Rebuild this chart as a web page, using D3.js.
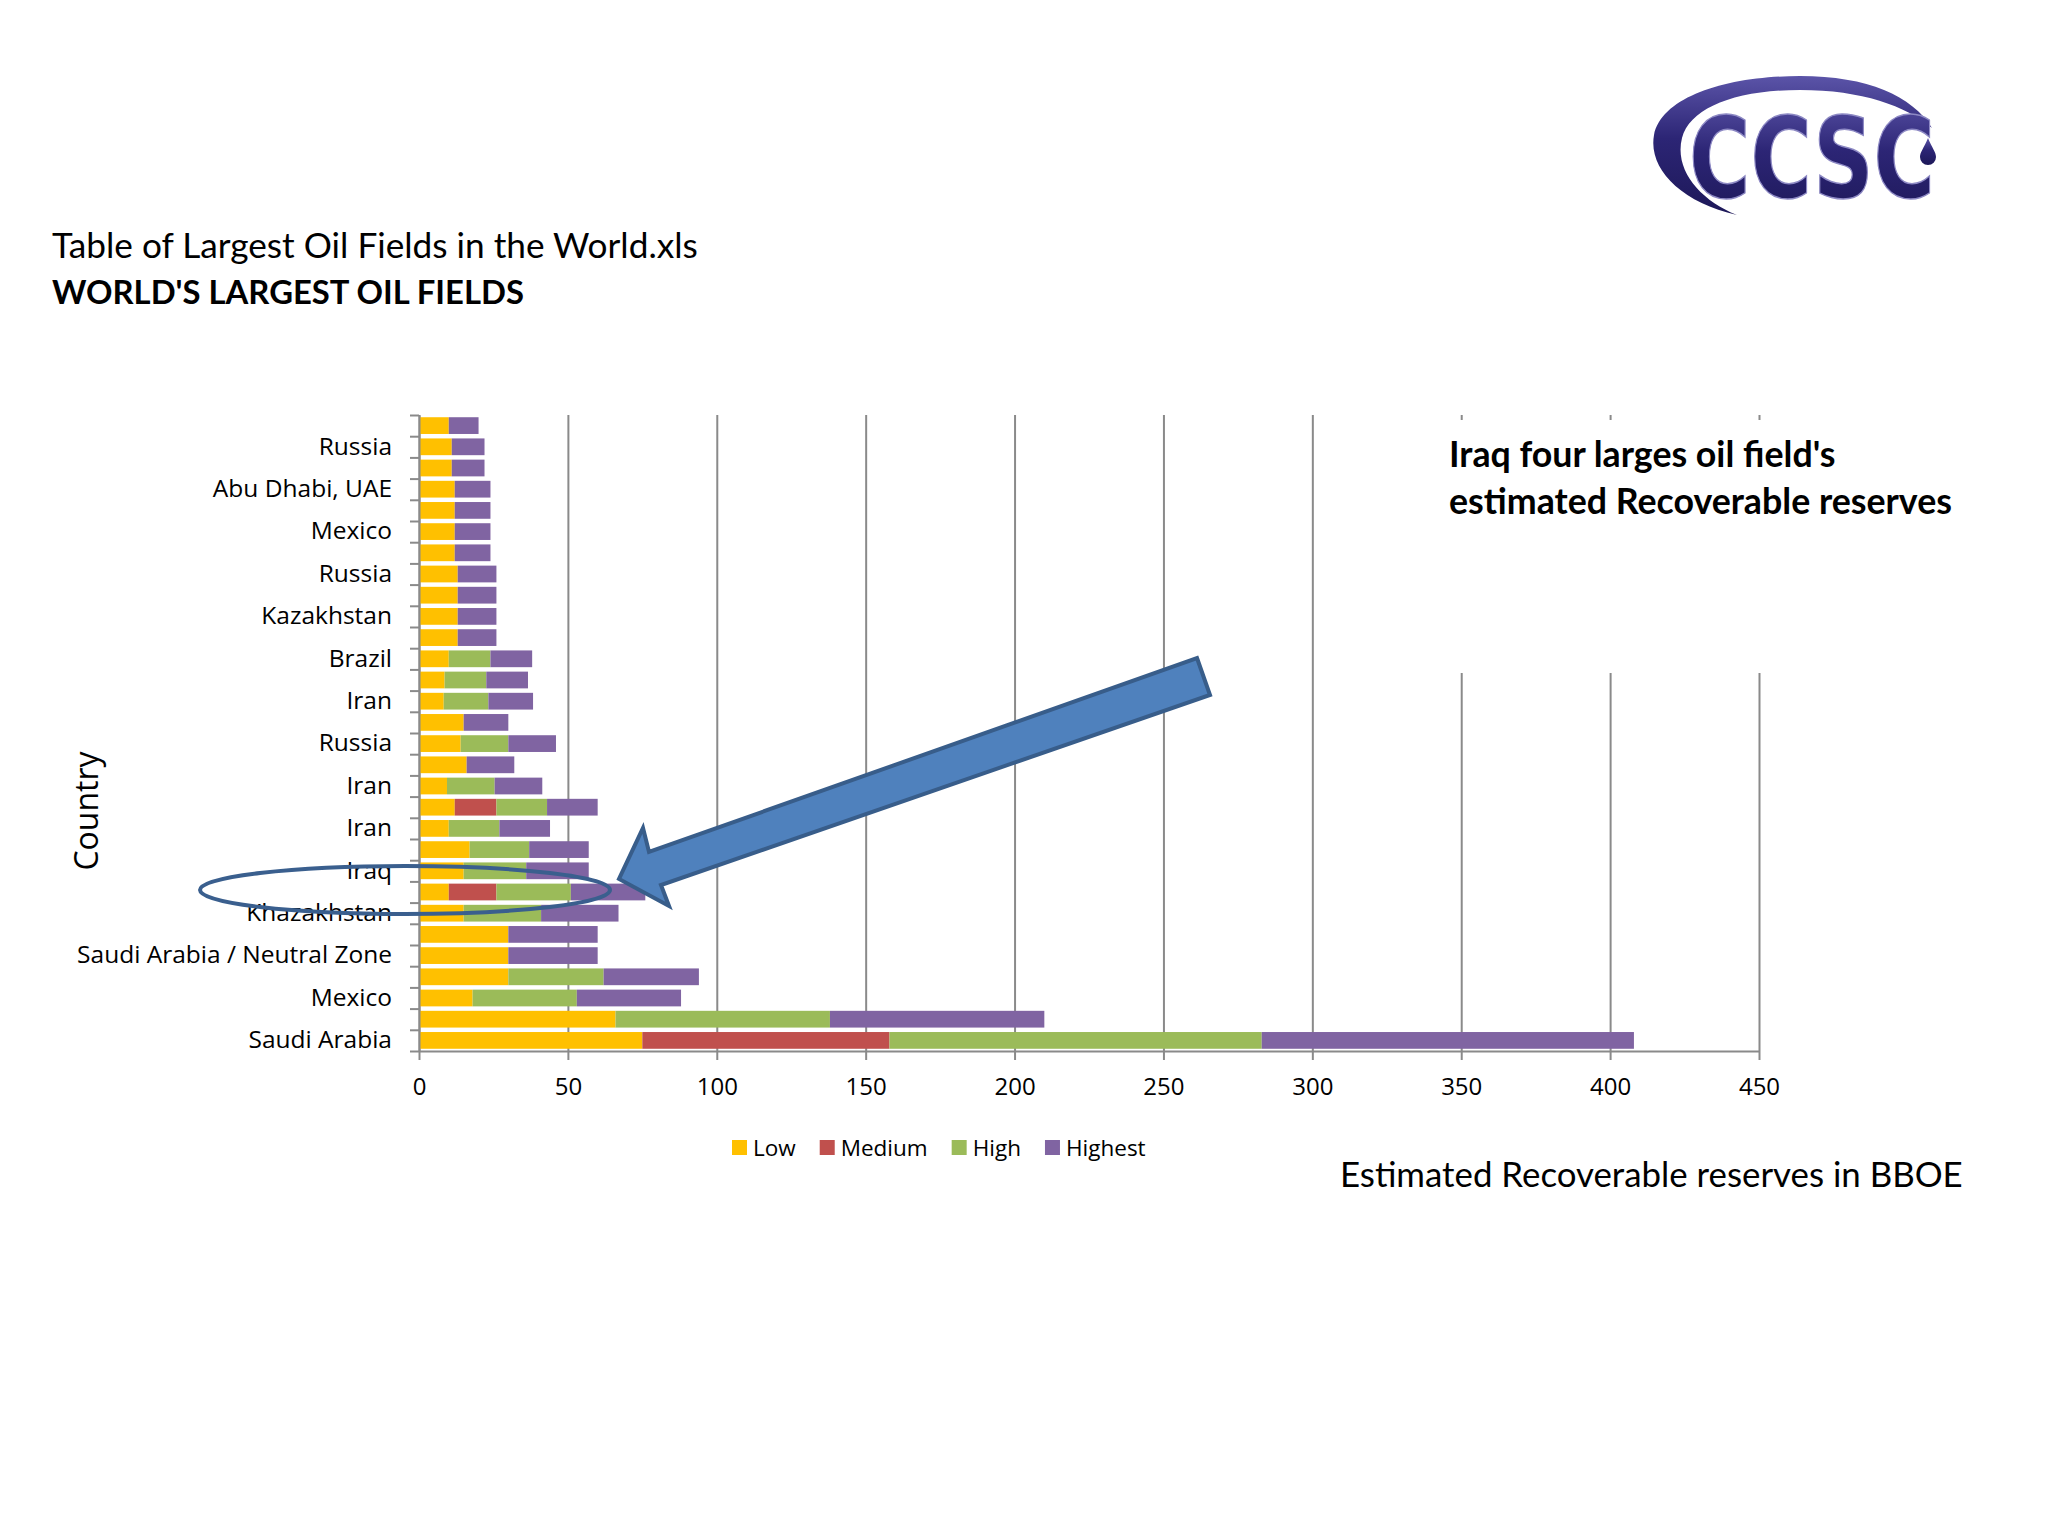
<!DOCTYPE html>
<html>
<head>
<meta charset="utf-8">
<script src="https://cdn.jsdelivr.net/npm/d3@7"></script>
<style>
  body { margin: 0; background: #fff; }
  svg { display: block; }
</style>
</head>
<body>
<div id="chart"></div>
<script>
// rows listed bottom to top, as in the Excel bar chart (only every other label is shown)
var countries = ["Saudi Arabia", "", "Mexico", "", "Saudi Arabia / Neutral Zone", "", "Khazakhstan", "",
    "Iraq", "", "Iran", "", "Iran", "", "Russia", "", "Iran", "", "Brazil", "", "Kazakhstan", "",
    "Russia", "", "Mexico", "", "Abu Dhabi, UAE", "", "Russia", ""];

var low     = [75, 66, 18, 30, 30, 30, 15, 10, 15, 17, 10, 12, 9.4, 16, 14, 15, 8.3, 8.6, 10, 13, 13, 13, 13, 12, 12, 12, 12, 11, 11, 10];
var medium  = [83, 0, 0, 0, 0, 0, 0, 16, 0, 0, 0, 14, 0, 0, 0, 0, 0, 0, 0, 0, 0, 0, 0, 0, 0, 0, 0, 0, 0, 0];
var high    = [125, 72, 35, 32, 0, 0, 26, 25, 21, 20, 17, 17, 16, 0, 16, 0, 15, 14, 14, 0, 0, 0, 0, 0, 0, 0, 0, 0, 0, 0];
var highest = [125, 72, 35, 32, 30, 30, 26, 25, 21, 20, 17, 17, 16, 16, 16, 15, 15, 14, 14, 13, 13, 13, 13, 12, 12, 12, 12, 11, 11, 10];

var seriesNames = ["Low", "Medium", "High", "Highest"];
var seriesColors = ["#ffc000", "#c0504d", "#9bbb59", "#8064a2"];
var xTicks = [0, 50, 100, 150, 200, 250, 300, 350, 400, 450];

var svgWidth = 2048;
var svgHeight = 1536;
var margin = { top: 415, left: 419 };
var width = 1340;
var height = 636;

var svg = d3.select("#chart")
    .append("svg")
    .attr("width", svgWidth)
    .attr("height", svgHeight);

var chartFont = "'Open Sans', sans-serif";
var slideFont = "Lato, 'Open Sans', sans-serif";

// make a text element match a measured width
function fitWidth(sel, w) {
    var len = sel.node().getComputedTextLength();
    var fs = parseFloat(sel.attr("font-size"));
    sel.attr("font-size", (fs * w / len).toFixed(2));
    return +(fs * w / len).toFixed(2);
}

var rows = countries.map(function(c, i) {
    return { idx: i, Low: low[i], Medium: medium[i], High: high[i], Highest: highest[i] };
});

var stacked = d3.stack().keys(seriesNames)(rows);

var xScale = d3.scaleLinear().domain([0, 450]).range([0, width]);
var yBand = d3.scaleBand()
    .domain(d3.range(countries.length))
    .range([height, 0])
    .paddingInner(0.21)
    .paddingOuter(0.105);
var yEdge = d3.scaleLinear().domain([0, countries.length]).range([height, 0]);

var chartGroup = svg.append("g")
    .attr("transform", `translate(${margin.left}, ${margin.top})`);

// vertical gridlines
var grid = chartGroup.append("g")
    .attr("transform", `translate(0, ${height})`)
    .call(d3.axisBottom(xScale).tickValues(xTicks).tickSize(-height).tickFormat(""));
grid.select(".domain").remove();
grid.selectAll("line").attr("stroke", "#8a8a8a").attr("stroke-width", 2);

// white text box that hides the top of the right gridlines
svg.append("rect")
    .attr("x", 1440).attr("y", 420)
    .attr("width", 560).attr("height", 253)
    .attr("fill", "#fff");

// bars
chartGroup.append("g")
    .selectAll("g")
    .data(stacked)
    .enter()
    .append("g")
    .attr("fill", (d, i) => seriesColors[i])
    .selectAll("rect")
    .data(d => d.filter(s => s[1] - s[0] > 0))
    .enter()
    .append("rect")
    .attr("x", d => xScale(d[0]))
    .attr("width", d => xScale(d[1]) - xScale(d[0]))
    .attr("y", d => yBand(d.data.idx))
    .attr("height", yBand.bandwidth());

// x axis
var xAxis = chartGroup.append("g")
    .attr("transform", `translate(0, ${height})`)
    .call(d3.axisBottom(xScale).tickValues(xTicks).tickSize(9).tickSizeOuter(0).tickPadding(18));
xAxis.select(".domain").attr("stroke", "#8a8a8a").attr("stroke-width", 2);
xAxis.selectAll("line").attr("stroke", "#8a8a8a").attr("stroke-width", 2);
xAxis.selectAll("text")
    .attr("font-family", chartFont)
    .attr("font-size", "24px")
    .attr("fill", "#000");

// y axis line with ticks between categories
var yAxis = chartGroup.append("g")
    .call(d3.axisLeft(yEdge).tickValues(d3.range(countries.length + 1)).tickSize(9).tickSizeOuter(0).tickFormat(""));
yAxis.select(".domain").attr("stroke", "#8a8a8a").attr("stroke-width", 2);
yAxis.selectAll("line").attr("stroke", "#8a8a8a").attr("stroke-width", 2);

// category labels
var yLabels = chartGroup.append("g")
    .call(d3.axisLeft(yBand).tickSize(0).tickPadding(27).tickFormat(i => countries[i]));
yLabels.select(".domain").remove();
yLabels.selectAll("text")
    .attr("font-family", chartFont)
    .attr("font-size", "24.5px")
    .attr("fill", "#000");

// axis title
svg.append("text")
    .attr("transform", "translate(98, 811) rotate(-90)")
    .attr("text-anchor", "middle")
    .attr("font-family", chartFont)
    .attr("font-size", "32px")
    .text("Country");

// legend
var legend = svg.append("g").attr("transform", "translate(732, 1140)");
var lx = 0;
seriesNames.forEach(function(name, i) {
    legend.append("rect")
        .attr("x", lx).attr("y", 0)
        .attr("width", 15).attr("height", 15)
        .attr("fill", seriesColors[i]);
    var t = legend.append("text")
        .attr("x", lx + 21).attr("y", 16)
        .attr("font-family", chartFont)
        .attr("font-size", "22.5px")
        .text(name);
    lx += 21 + t.node().getComputedTextLength() + 24;
});

// slide texts
var t1 = svg.append("text")
    .attr("x", 52).attr("y", 258)
    .attr("font-family", slideFont).attr("font-size", 32)
    .text("Table of Largest Oil Fields in the World.xls");
fitWidth(t1, 646);

var t2 = svg.append("text")
    .attr("x", 52).attr("y", 304)
    .attr("font-family", slideFont).attr("font-size", 30).attr("font-weight", "bold")
    .text("WORLD'S LARGEST OIL FIELDS");
fitWidth(t2, 472);

var b2 = svg.append("text")
    .attr("x", 1449).attr("y", 514)
    .attr("font-family", slideFont).attr("font-size", 33).attr("font-weight", "bold")
    .text("estimated Recoverable reserves");
var boxSize = fitWidth(b2, 503);
svg.append("text")
    .attr("x", 1449).attr("y", 467)
    .attr("font-family", slideFont).attr("font-size", boxSize).attr("font-weight", "bold")
    .text("Iraq four larges oil field's");

var xt = svg.append("text")
    .attr("x", 1340).attr("y", 1187)
    .attr("font-family", slideFont).attr("font-size", 36)
    .text("Estimated Recoverable reserves in BBOE");
fitWidth(xt, 623);

// highlight ellipse and arrow
svg.append("ellipse")
    .attr("cx", 405).attr("cy", 890)
    .attr("rx", 205).attr("ry", 24)
    .attr("fill", "none")
    .attr("stroke", "#3a5f8e")
    .attr("stroke-width", 4);

var arrowPts = [[1197, 658], [1210, 695], [661, 885], [669, 906], [619, 879], [643, 828], [649, 852]];
svg.append("polygon")
    .attr("points", arrowPts.map(p => p.join(",")).join(" "))
    .attr("fill", "#4f81bd")
    .attr("stroke", "#385d8a")
    .attr("stroke-width", 4)
    .attr("stroke-linejoin", "miter");

// CCSC logo
var defs = svg.append("defs");
var grad = defs.append("linearGradient").attr("id", "logoGrad")
    .attr("x1", 0).attr("y1", 0).attr("x2", 0).attr("y2", 1);
grad.append("stop").attr("offset", "0%").attr("stop-color", "#5b54a8");
grad.append("stop").attr("offset", "45%").attr("stop-color", "#2c2575");
grad.append("stop").attr("offset", "100%").attr("stop-color", "#1d1858");

var logo = svg.append("g");
logo.append("path")
    .attr("d", "M1737,215 C1680,202 1648,168 1654,135 C1662,96 1728,76 1800,76 C1868,76 1912,96 1932,128 " +
               "C1906,106 1862,90 1800,90 C1735,90 1690,108 1682,138 C1674,170 1700,200 1737,215 Z")
    .attr("fill", "url(#logoGrad)");
logo.append("text")
    .attr("x", 1689).attr("y", 197)
    .attr("font-family", "'DejaVu Sans', sans-serif")
    .attr("font-weight", "bold")
    .attr("font-size", 112)
    .attr("textLength", 246)
    .attr("lengthAdjust", "spacingAndGlyphs")
    .attr("fill", "url(#logoGrad)")
    .attr("stroke", "#8d89c4")
    .attr("stroke-width", 1.5)
    .text("CCSC");
logo.append("path")
    .attr("d", "M1928,138 C1932,148 1936,152 1936,157 A8,8 0 1 1 1920,157 C1920,152 1924,148 1928,138 Z")
    .attr("fill", "url(#logoGrad)");
</script>
</body>
</html>
